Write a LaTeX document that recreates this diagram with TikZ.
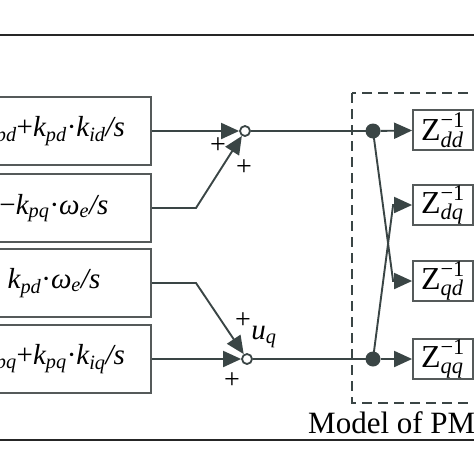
\documentclass[tikz,border=0pt]{standalone}
\usepackage{amsmath}
\usepackage{fontspec}
\setmainfont{Liberation Serif}
\usetikzlibrary{arrows.meta}

\definecolor{linegrey}{HTML}{3A4545}
\definecolor{boxgrey}{HTML}{555A5A}

\newcommand{\ti}[1]{\text{\itshape #1}}
\newcommand{\tu}[1]{\text{\upshape #1}}

\tikzset{
  gain/.style={draw=boxgrey, line width=2pt, minimum width=194pt, minimum height=68pt,
    inner sep=0pt, font=\fontsize{29}{32}\selectfont},
  imp/.style={draw=boxgrey, line width=1.8pt, minimum width=60pt, minimum height=40pt,
    inner sep=0pt, font=\fontsize{32}{34}\selectfont},
  sig/.style={draw=linegrey, line width=1.9pt, -{Triangle[length=18pt,width=16pt]}},
  wire/.style={draw=linegrey, line width=1.9pt},
  sumpt/.style={circle, draw=linegrey, fill=white, line width=1.8pt, minimum size=10pt, inner sep=0pt},
  branch/.style={circle, fill=linegrey, minimum size=15pt, inner sep=0pt},
  sign/.style={inner sep=0pt, font=\fontsize{28}{30}\selectfont}
}

\begin{document}
\begin{tikzpicture}[x=1pt, y=-1pt]
\useasboundingbox (0,0) rectangle (474,474);
\clip (0,0) rectangle (474,474);

\pgfmathsetmacro{\gx}{54}
\pgfmathsetmacro{\zx}{443}

% frame
\draw[line width=2.4pt, color=black!85] (-5,35) -- (480,35);
\draw[line width=2.4pt, color=black!85] (-5,440) -- (480,440);

% controller gains
\node[gain] (kdd) at (\gx,131) {$\ti{k}_{\ti{pd}}\tu{+}\ti{k}_{\ti{pd}}\tu{·}\ti{k}_{\ti{id}}\ti{/s}$};
\node[gain] (kdq) at (\gx,208) {$\tu{−}\ti{k}_{\ti{pq}}\tu{·}\ti{ω}_{\ti{e}}\ti{/s}$};
\node[gain] (kqd) at (\gx,283) {$\ti{k}_{\ti{pd}}\tu{·}\ti{ω}_{\ti{e}}\ti{/s}$};
\node[gain] (kqq) at (\gx,359) {$\ti{k}_{\ti{pq}}\tu{+}\ti{k}_{\ti{pq}}\tu{·}\ti{k}_{\ti{iq}}\ti{/s}$};

% summing points and branches
\node[sumpt] (sd) at (245,131) {};
\node[sumpt] (sq) at (247,359) {};
\node[branch] (bd) at (373,131) {};
\node[branch] (bq) at (373,359) {};

% plant model
\draw[dashed, dash pattern=on 10pt off 6pt, line width=2pt, color=linegrey] (352,93) rectangle (500,403);
\node[imp] (zdd) at (\zx,130) {$\tu{Z}_{\ti{dd}}^{\tu{−1}}$};
\node[imp] (zdq) at (\zx,205) {$\tu{Z}_{\ti{dq}}^{\tu{−1}}$};
\node[imp] (zqd) at (\zx,281) {$\tu{Z}_{\ti{qd}}^{\tu{−1}}$};
\node[imp] (zqq) at (\zx,359) {$\tu{Z}_{\ti{qq}}^{\tu{−1}}$};
\node[anchor=base west, inner sep=0pt, font=\fontsize{31}{33}\selectfont] (plant) at (308,433) {Model of PMSM};

\draw[sig] (kdd.east) -- (sd);
\draw[sig] (kdq.east) -- ++(44,0) -- (sd);
\draw[sig] (kqd.east) -- ++(44,0) -- (sq);
\draw[sig] (kqq.east) -- (sq);

\draw[wire] (sd) -- (bd.center);
\draw[wire] (sq) -- (bq.center);
\draw[sig] (bd) -- (zdd);
\draw[sig] (bq) -- (zqq);
\draw[sig] (bd.center) -- ([xshift=-19pt]zqd.west) -- (zqd.west);
\draw[sig] (bq.center) -- ([xshift=-19pt]zdq.west) -- (zdq.west);

% signs
\node[sign] (pd1) at (218,146) {+};
\node[sign] (pd2) at (244,168) {+};
\node[sign] (pq1) at (243,321) {+};
\node[sign] (pq2) at (232,381) {+};
\node[inner sep=0pt, font=\fontsize{29}{32}\selectfont] (uq) at (264,337) {$\ti{u}_{\ti{q}}$};
\end{tikzpicture}
\end{document}
